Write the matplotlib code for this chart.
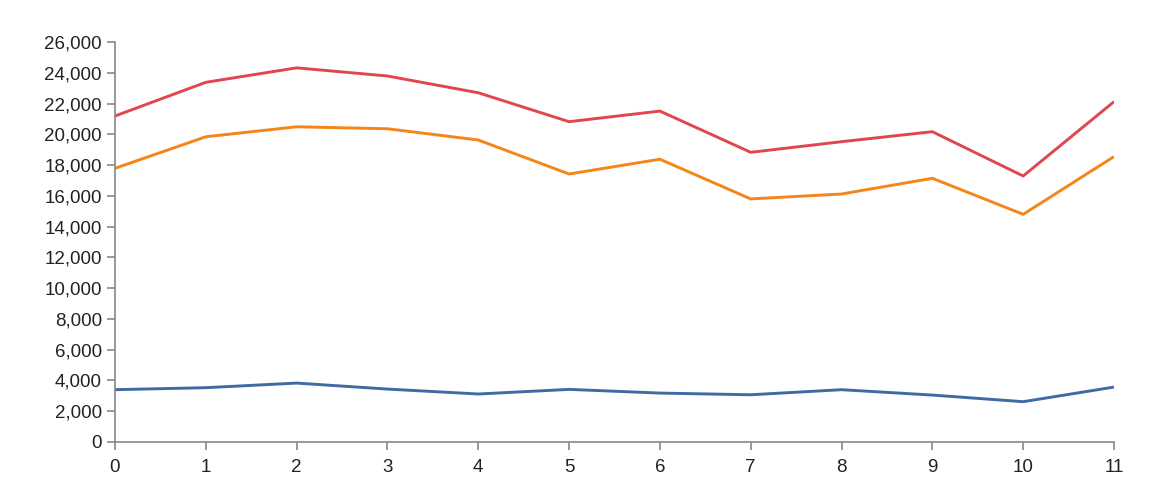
import matplotlib
matplotlib.use("Agg")
import matplotlib.pyplot as plt
from matplotlib.ticker import FuncFormatter, MultipleLocator

# data
x_vals = list(range(12))
blue_vals = [3400, 3530, 3830, 3440, 3120, 3420, 3180, 3070, 3400, 3050, 2620, 3570]
orange_vals = [17790, 19840, 20490, 20360, 19630, 17420, 18380, 15800, 16120, 17140, 14800, 18550]
red_vals = [21190, 23380, 24320, 23790, 22700, 20820, 21510, 18830, 19520, 20170, 17290, 22120]

series = [
    (blue_vals, "#3f6aa3"),
    (orange_vals, "#f58518"),
    (red_vals, "#e0464e"),
]

plt.rcParams["font.family"] = ["Liberation Sans", "DejaVu Sans"]

fig = plt.figure(figsize=(11.54, 5.0), dpi=100)
ax = fig.add_axes([115 / 1154, 58 / 500, 999 / 1154, 400 / 500])

for vals, color in series:
    ax.plot(x_vals, vals, color=color, linewidth=2.1, solid_capstyle="butt")

ax.set_xlim(0, 11)
ax.set_ylim(0, 26000)
ax.xaxis.set_major_locator(MultipleLocator(1))
ax.yaxis.set_major_locator(MultipleLocator(2000))
ax.yaxis.set_major_formatter(FuncFormatter(lambda v, p: f"{int(v):,}"))

for side in ["top", "right"]:
    ax.spines[side].set_visible(False)
for side in ["left", "bottom"]:
    ax.spines[side].set_color("#888888")
    ax.spines[side].set_linewidth(1.2)

ax.tick_params(axis="both", colors="#888888", labelcolor="#222222",
               labelsize=13.5, length=6, width=1.2)
ax.tick_params(axis="y", pad=3.5)
ax.tick_params(axis="x", pad=6)

fig.savefig("out.png", dpi=100, facecolor="white")
